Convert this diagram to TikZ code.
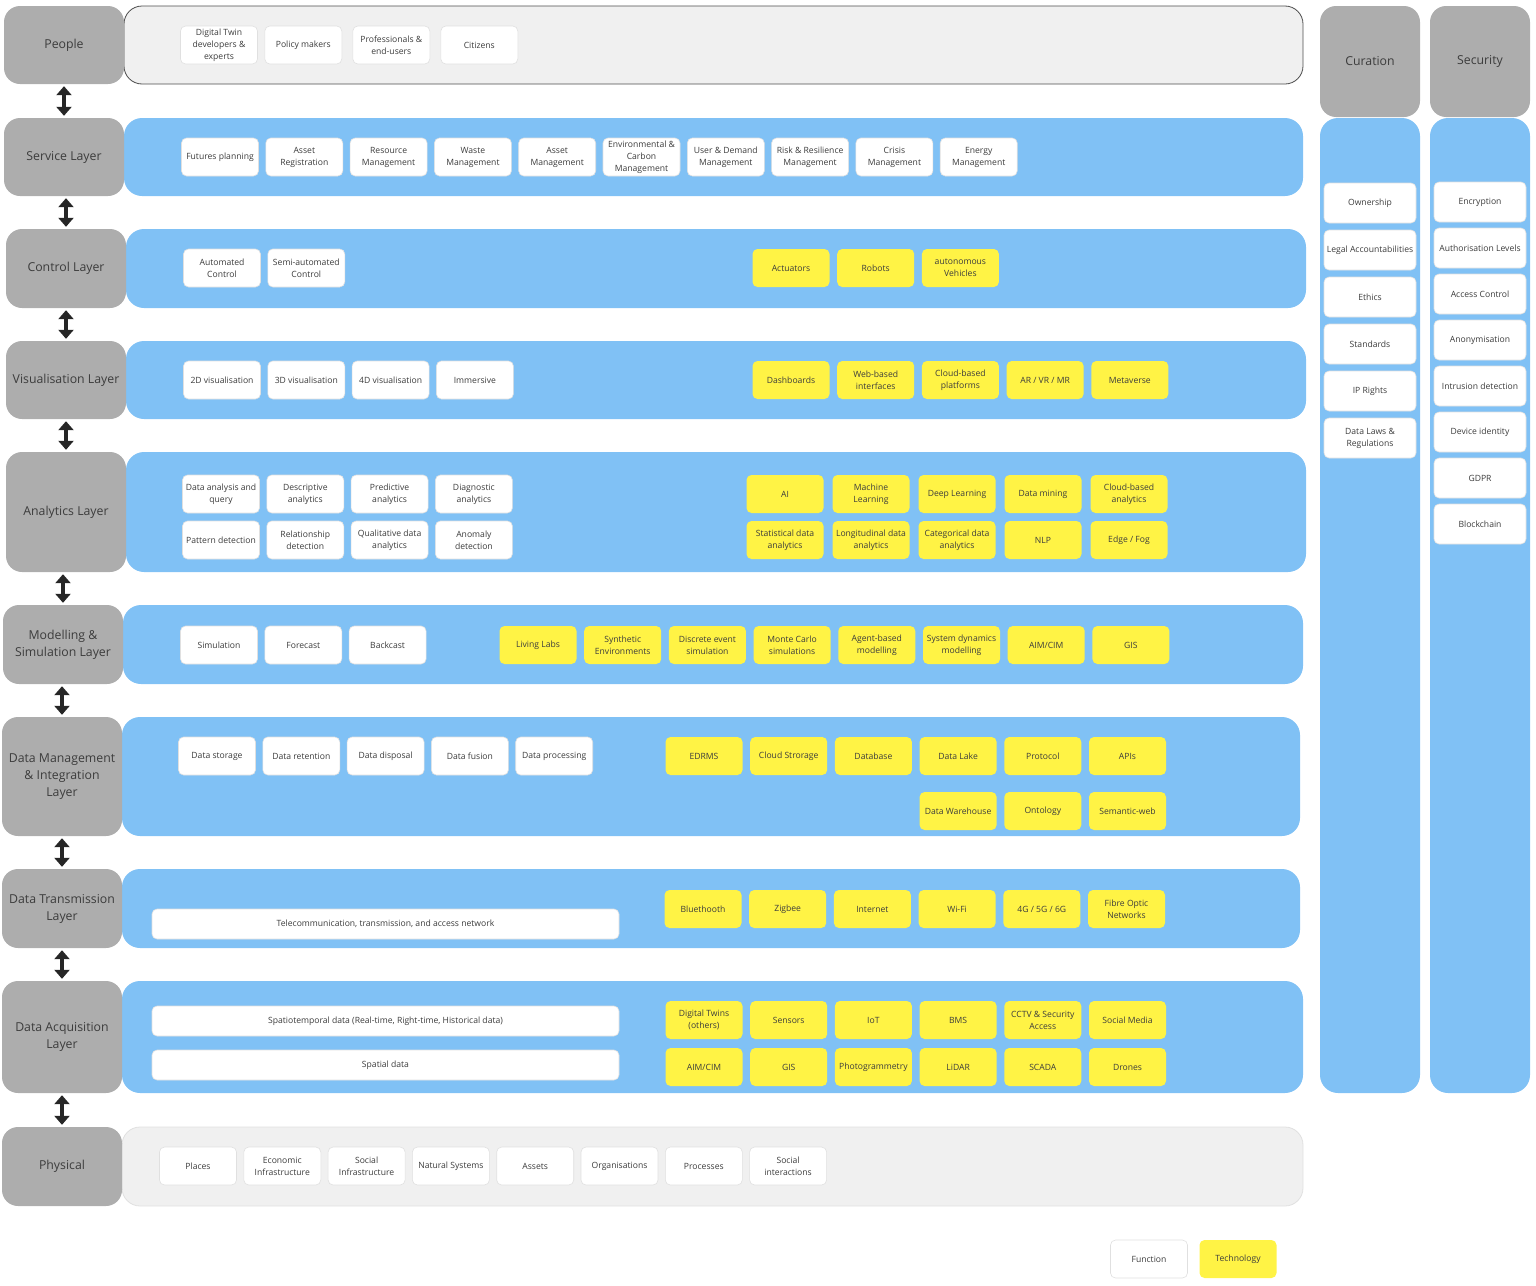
\documentclass[tikz,border=0pt]{standalone}
\usepackage{fontspec}
\setmainfont{Open Sans}
\usepackage{xcolor}
\usetikzlibrary{positioning, arrows.meta}

\definecolor{layergrey}{HTML}{ADADAD}
\definecolor{bandblue}{HTML}{80C1F5}
\definecolor{techyellow}{HTML}{FFF345}
\definecolor{panelgrey}{HTML}{F0F0F0}
\definecolor{txtgrey}{HTML}{3C3C3C}

\tikzset{
  layer/.style={rectangle, rounded corners=16pt, fill=layergrey, minimum width=120pt, inner sep=2pt,
    align=center, text=txtgrey, font=\fontsize{12.3}{17}\selectfont},
  band/.style={rounded corners=18pt, fill=bandblue},
  func/.style={rectangle, rounded corners=5pt, fill=white, draw=black!12, line width=0.6pt,
    minimum width=77pt, minimum height=38pt, inner sep=1pt, outer sep=0pt, align=center, text=txtgrey,
    font=\fontsize{8.6}{12}\selectfont},
  tech/.style={func, fill=techyellow, draw=none, node distance=7.7pt},
  sidebox/.style={func, minimum width=92pt, minimum height=40pt},
  updown/.style={{Triangle[width=15pt,length=9pt]}-{Triangle[width=15pt,length=9pt]},
    line width=4.5pt, black!85, shorten >=2pt, shorten <=2pt},
}

\begin{document}
\begin{tikzpicture}[x=1pt, y=-1pt, node distance=7.3pt]
  \useasboundingbox (0,0) rectangle (1536,1285);

  % layer bands
  \filldraw[band, fill=panelgrey, draw=black!70, line width=0.8pt] (124,6) rectangle (1303,84);
  \fill[band] (124,118) rectangle (1303,196);
  \fill[band] (126,229) rectangle (1306,308);
  \fill[band] (126,341) rectangle (1306,419);
  \fill[band] (126,452) rectangle (1306,572);
  \fill[band] (123,605) rectangle (1303,684);
  \fill[band] (122,717) rectangle (1300,836);
  \fill[band] (122,869) rectangle (1300,948);
  \fill[band] (122,981) rectangle (1303,1093);
  \filldraw[band, fill=panelgrey, draw=black!12, line width=0.8pt] (122,1127) rectangle (1303,1206);
  \fill[band] (1320,118) rectangle (1420,1093);
  \fill[band] (1430,118) rectangle (1530,1093);

  % layer names
  \node[layer, minimum height=78pt] (people) at (64,45) {People};
  \node[layer, minimum height=78pt] (service) at (64,157) {Service Layer};
  \node[layer, minimum height=79pt] (control) at (66,268.5) {Control Layer};
  \node[layer, minimum height=78pt] (visual) at (66,380) {Visualisation Layer};
  \node[layer, minimum height=120pt] (analytics) at (66,512) {Analytics Layer};
  \node[layer, minimum height=79pt] (modelling) at (63,644.5) {Modelling \&\\Simulation Layer};
  \node[layer, minimum height=119pt] (datamgmt) at (62,776.5) {Data Management\\\& Integration\\Layer};
  \node[layer, minimum height=79pt] (transmit) at (62,908.5) {Data Transmission\\Layer};
  \node[layer, minimum height=112pt] (acquire) at (62,1037) {Data Acquisition\\Layer};
  \node[layer, minimum height=79pt] (physical) at (62,1166.5) {Physical};
  \node[layer, minimum width=100pt, minimum height=111pt] (curation) at (1370,61.5) {Curation};
  \node[layer, minimum width=100pt, minimum height=111pt] (security) at (1480,61.5) {Security};

  \draw[updown] (people) -- (service);
  \draw[updown] (service.south -| control.north) -- (control.north);
  \draw[updown] (control) -- (visual);
  \draw[updown] (visual) -- (analytics);
  \draw[updown] (analytics.south -| modelling.north) -- (modelling.north);
  \draw[updown] (modelling.south -| datamgmt.north) -- (datamgmt.north);
  \draw[updown] (datamgmt) -- (transmit);
  \draw[updown] (transmit) -- (acquire);
  \draw[updown] (acquire) -- (physical);

  % people
  \node[func] (dtdev) at (219,45) {Digital Twin\\developers \&\\experts};
  \node[func, right=of dtdev] (policy) {Policy makers};
  \node[func, right=11pt of policy] (prof) {Professionals \&\\end-users};
  \node[func, right=11pt of prof] (citizens) {Citizens};

  % service layer
  \node[func] (futures) at (220,157) {Futures planning};
  \node[func, right=of futures] (assetreg) {Asset\\Registration};
  \node[func, right=of assetreg] (resource) {Resource\\Management};
  \node[func, right=of resource] (waste) {Waste\\Management};
  \node[func, right=of waste] (assetmgmt) {Asset\\Management};
  \node[func, right=of assetmgmt] (envcarbon) {Environmental \&\\Carbon\\Management};
  \node[func, right=of envcarbon] (userdemand) {User \& Demand\\Management};
  \node[func, right=of userdemand] (risk) {Risk \& Resilience\\Management};
  \node[func, right=of risk] (crisis) {Crisis\\Management};
  \node[func, right=of crisis] (energy) {Energy\\Management};

  % control layer
  \node[func] (autoctrl) at (222,268) {Automated\\Control};
  \node[func, right=of autoctrl] (semictrl) {Semi-automated\\Control};
  \node[tech] (actuators) at (791,268) {Actuators};
  \node[tech, right=of actuators] (robots) {Robots};
  \node[tech, right=of robots] (vehicles) {autonomous\\Vehicles};

  % visualisation layer
  \node[func] (vis2d) at (222,380) {2D visualisation};
  \node[func, right=of vis2d] (vis3d) {3D visualisation};
  \node[func, right=of vis3d] (vis4d) {4D visualisation};
  \node[func, right=of vis4d] (immersive) {Immersive};
  \node[tech] (dashboards) at (791,380) {Dashboards};
  \node[tech, right=of dashboards] (webui) {Web-based\\interfaces};
  \node[tech, right=of webui] (cloudplat) {Cloud-based\\platforms};
  \node[tech, right=of cloudplat] (arvr) {AR / VR / MR};
  \node[tech, right=of arvr] (metaverse) {Metaverse};

  % analytics layer
  \node[func] (query) at (221,494) {Data analysis and\\query};
  \node[func, right=of query] (descriptive) {Descriptive\\analytics};
  \node[func, right=of descriptive] (predictive) {Predictive\\analytics};
  \node[func, right=of predictive] (diagnostic) {Diagnostic\\analytics};
  \node[func, below=8pt of query] (pattern) {Pattern detection};
  \node[func, right=of pattern] (relation) {Relationship\\detection};
  \node[func, right=of relation] (qualitative) {Qualitative data\\analytics};
  \node[func, right=of qualitative] (anomaly) {Anomaly\\detection};
  \node[tech] (ai) at (785,494) {AI};
  \node[tech, right=9pt of ai] (ml) {Machine\\Learning};
  \node[tech, right=9pt of ml] (dl) {Deep Learning};
  \node[tech, right=9pt of dl] (mining) {Data mining};
  \node[tech, right=9pt of mining] (cloudana) {Cloud-based\\analytics};
  \node[tech, below=8pt of ai] (statistical) {Statistical data\\analytics};
  \node[tech, right=9pt of statistical] (longitudinal) {Longitudinal data\\analytics};
  \node[tech, right=9pt of longitudinal] (categorical) {Categorical data\\analytics};
  \node[tech, right=9pt of categorical] (nlp) {NLP};
  \node[tech, right=9pt of nlp] (edgefog) {Edge / Fog};

  % modelling & simulation layer
  \node[func] (simulation) at (219,645) {Simulation};
  \node[func, right=of simulation] (forecast) {Forecast};
  \node[func, right=of forecast] (backcast) {Backcast};
  \node[tech] (livinglabs) at (538,645) {Living Labs};
  \node[tech, right=of livinglabs] (synthetic) {Synthetic\\Environments};
  \node[tech, right=of synthetic] (discrete) {Discrete event\\simulation};
  \node[tech, right=of discrete] (montecarlo) {Monte Carlo\\simulations};
  \node[tech, right=of montecarlo] (agent) {Agent-based\\modelling};
  \node[tech, right=of agent] (sysdyn) {System dynamics\\modelling};
  \node[tech, right=of sysdyn] (aimcimm) {AIM/CIM};
  \node[tech, right=of aimcimm] (gism) {GIS};

  % data management & integration layer
  \node[func] (storage) at (217,756) {Data storage};
  \node[func, right=of storage] (retention) {Data retention};
  \node[func, right=of retention] (disposal) {Data disposal};
  \node[func, right=of disposal] (fusion) {Data fusion};
  \node[func, right=of fusion] (processing) {Data processing};
  \node[tech] (edrms) at (704,756) {EDRMS};
  \node[tech, right=of edrms] (cloudstore) {Cloud Strorage};
  \node[tech, right=of cloudstore] (database) {Database};
  \node[tech, right=of database] (datalake) {Data Lake};
  \node[tech, right=of datalake] (protocol) {Protocol};
  \node[tech, right=of protocol] (apis) {APIs};
  \node[tech, below=17pt of datalake] (warehouse) {Data Warehouse};
  \node[tech, right=of warehouse] (ontology) {Ontology};
  \node[tech, right=of ontology] (semweb) {Semantic-web};

  % data transmission layer
  \node[func, minimum width=467pt, minimum height=30pt] (telecom) at (385.5,924)
    {Telecommunication, transmission, and access network};
  \node[tech] (bluetooth) at (703,909) {Bluethooth};
  \node[tech, right=of bluetooth] (zigbee) {Zigbee};
  \node[tech, right=of zigbee] (internet) {Internet};
  \node[tech, right=of internet] (wifi) {Wi-Fi};
  \node[tech, right=of wifi] (cellular) {4G / 5G / 6G};
  \node[tech, right=of cellular] (fibre) {Fibre Optic\\Networks};

  % data acquisition layer
  \node[func, minimum width=467pt, minimum height=30pt] (spatiotemp) at (385.5,1021)
    {Spatiotemporal data (Real-time, Right-time, Historical data)};
  \node[func, minimum width=467pt, minimum height=30pt] (spatial) at (385.5,1065) {Spatial data};
  \node[tech] (othertwins) at (704,1020) {Digital Twins\\(others)};
  \node[tech, right=of othertwins] (sensors) {Sensors};
  \node[tech, right=of sensors] (iot) {IoT};
  \node[tech, right=of iot] (bms) {BMS};
  \node[tech, right=of bms] (cctv) {CCTV \& Security\\Access};
  \node[tech, right=of cctv] (social) {Social Media};
  \node[tech, below=9pt of othertwins] (aimcima) {AIM/CIM};
  \node[tech, right=of aimcima] (gisa) {GIS};
  \node[tech, right=of gisa] (photo) {Photogrammetry};
  \node[tech, right=of photo] (lidar) {LiDAR};
  \node[tech, right=of lidar] (scada) {SCADA};
  \node[tech, right=of scada] (drones) {Drones};

  % physical
  \node[func] (places) at (198,1166) {Places};
  \node[func, right=of places] (econinfra) {Economic\\Infrastructure};
  \node[func, right=of econinfra] (socinfra) {Social\\Infrastructure};
  \node[func, right=of socinfra] (natural) {Natural Systems};
  \node[func, right=of natural] (assets) {Assets};
  \node[func, right=of assets] (orgs) {Organisations};
  \node[func, right=of orgs] (processes) {Processes};
  \node[func, right=of processes] (interactions) {Social\\interactions};

  % curation
  \node[sidebox] (ownership) at (1370,203) {Ownership};
  \node[sidebox, below=7pt of ownership] (legal) {Legal Accountabilities};
  \node[sidebox, below=7pt of legal] (ethics) {Ethics};
  \node[sidebox, below=7pt of ethics] (standards) {Standards};
  \node[sidebox, below=7pt of standards] (iprights) {IP Rights};
  \node[sidebox, below=7pt of iprights] (datalaws) {Data Laws \&\\Regulations};

  % security
  \node[sidebox] (encryption) at (1480,202) {Encryption};
  \node[sidebox, below=6pt of encryption] (authlevels) {Authorisation Levels};
  \node[sidebox, below=6pt of authlevels] (access) {Access Control};
  \node[sidebox, below=6pt of access] (anonym) {Anonymisation};
  \node[sidebox, below=6pt of anonym] (intrusion) {Intrusion detection};
  \node[sidebox, below=6pt of intrusion] (deviceid) {Device identity};
  \node[sidebox, below=6pt of deviceid] (gdpr) {GDPR};
  \node[sidebox, below=6pt of gdpr] (blockchain) {Blockchain};

  % legend
  \node[func] (legfunc) at (1149,1259) {Function};
  \node[tech, right=12pt of legfunc] (legtech) {Technology};
\end{tikzpicture}
\end{document}
